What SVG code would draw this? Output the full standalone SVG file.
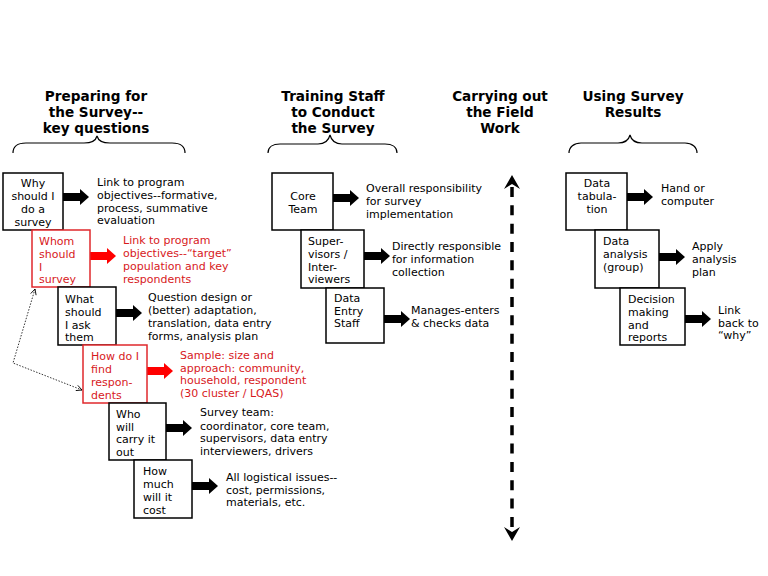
<svg xmlns="http://www.w3.org/2000/svg" width="768" height="576" viewBox="0 0 768 576">
<defs>
<style>
text{font-family:"DejaVu Sans","Verdana",sans-serif;font-size:11px;fill:#000}
.t{font-weight:bold;font-size:13.6px;text-anchor:middle}
.c{text-anchor:middle}
.r{fill:#d7191c}
.box{fill:#fff;stroke:#000;stroke-width:1.5}
.rbox{fill:#fff;stroke:#e0282c;stroke-width:1.5}
.brace{fill:none;stroke:#000;stroke-width:1.2}
</style>
<path id="arr" d="M0,-4 H17 V-8 L26,0 L17,8 V4 H0 Z"/>
<marker id="dm" viewBox="0 0 10 10" refX="9" refY="5" markerWidth="7" markerHeight="7" orient="auto-start-reverse" markerUnits="userSpaceOnUse">
<path d="M1,1 L9,5 L1,9" fill="none" stroke="#000" stroke-width="1.2"/>
</marker>
</defs>
<rect width="768" height="576" fill="#fff"/>

<g id="titles">
<text class="t" x="96" y="101">Preparing for</text>
<text class="t" x="96" y="117">the Survey--</text>
<text class="t" x="96" y="133">key questions</text>
<text class="t" x="333" y="101">Training Staff</text>
<text class="t" x="333" y="117">to Conduct</text>
<text class="t" x="333" y="133">the Survey</text>
<text class="t" x="500" y="101">Carrying out</text>
<text class="t" x="500" y="117">the Field</text>
<text class="t" x="500" y="133">Work</text>
<text class="t" x="633" y="101">Using Survey</text>
<text class="t" x="633" y="117">Results</text>
</g>

<g id="braces">
<path class="brace" d="M13,153 C13,146 18,143 26,143 H84 C92,143 96,140 97,136 C98,140 102,143 110,143 H172 C180,143 185,146 185,153"/>
<path class="brace" d="M268,153 C268,147 273,144 280,144 H318 C326,144 329,139 330,135 C331,139 334,144 342,144 H385 C392,144 397,147 397,153"/>
<path class="brace" d="M569,153 C569,147 574,143 581,143 H618 C626,143 629,139 630,135 C631,139 634,143 642,143 H685 C692,143 697,147 697,153"/>
</g>

<g id="connectors">
<use href="#arr" x="63" y="197"/>
<use href="#arr" x="90" y="256" fill="#ff0000"/>
<use href="#arr" x="116" y="313"/>
<use href="#arr" x="147" y="371" fill="#ff0000"/>
<use href="#arr" x="166" y="428"/>
<use href="#arr" x="192" y="486"/>
<use href="#arr" x="333" y="198"/>
<use href="#arr" x="364" y="256"/>
<use href="#arr" x="384" y="319"/>
<use href="#arr" x="627" y="197"/>
<use href="#arr" x="659" y="257"/>
<use href="#arr" x="685" y="319"/>
<polyline points="35,289 13,363 82,390" fill="none" stroke="#000" stroke-width="0.8" stroke-dasharray="1.5,1.5" marker-start="url(#dm)" marker-end="url(#dm)"/>
<line x1="512" y1="187" x2="512" y2="527" stroke="#000" stroke-width="3.5" stroke-dasharray="10,8.33"/>
<path d="M512,175 L520,189 L512,184 L504,189 Z"/>
<path d="M512,541 L520,527 L512,532 L504,527 Z"/>
</g>

<g id="why">
<rect class="box" x="3" y="173" width="60" height="57"/>
<text class="c" x="33" y="187">Why</text>
<text class="c" x="33" y="200">should I</text>
<text class="c" x="33" y="213">do a</text>
<text class="c" x="33" y="226">survey</text>
<text x="97" y="186">Link to program</text>
<text x="97" y="199">objectives--formative,</text>
<text x="97" y="212">process, summative</text>
<text x="97" y="224">evaluation</text>
</g>

<g id="whom">
<rect class="rbox" x="32" y="230" width="58" height="57"/>
<text class="r" x="39" y="245">Whom</text>
<text class="r" x="39" y="258">should</text>
<text class="r" x="39" y="271">I</text>
<text class="r" x="39" y="283">survey</text>
<text class="r" x="123" y="244">Link to program</text>
<text class="r" x="123" y="257">objectives--“target”</text>
<text class="r" x="123" y="270">population and key</text>
<text class="r" x="123" y="283">respondents</text>
</g>

<g id="what">
<rect class="box" x="58" y="287" width="58" height="58"/>
<text x="65" y="303">What</text>
<text x="65" y="316">should</text>
<text x="65" y="329">I ask</text>
<text x="65" y="341">them</text>
<text x="148" y="301">Question design or</text>
<text x="148" y="314">(better) adaptation,</text>
<text x="148" y="327">translation, data entry</text>
<text x="148" y="340">forms, analysis plan</text>
</g>

<g id="how">
<rect class="rbox" x="83" y="345" width="64" height="58"/>
<text class="r" x="91" y="360">How do I</text>
<text class="r" x="91" y="373">find</text>
<text class="r" x="91" y="386">respon-</text>
<text class="r" x="91" y="399">dents</text>
<text class="r" x="180" y="359">Sample: size and</text>
<text class="r" x="180" y="372">approach: community,</text>
<text class="r" x="180" y="384">household, respondent</text>
<text class="r" x="180" y="397">(30 cluster / LQAS)</text>
</g>

<g id="who">
<rect class="box" x="109" y="403" width="57" height="57"/>
<text x="116" y="418">Who</text>
<text x="116" y="431">will</text>
<text x="116" y="443">carry it</text>
<text x="116" y="456">out</text>
<text x="200" y="416">Survey team:</text>
<text x="200" y="430">coordinator, core team,</text>
<text x="200" y="442">supervisors, data entry</text>
<text x="200" y="455">interviewers, drivers</text>
</g>

<g id="cost">
<rect class="box" x="134" y="460" width="58" height="58"/>
<text x="143" y="475">How</text>
<text x="143" y="488">much</text>
<text x="143" y="501">will it</text>
<text x="143" y="514">cost</text>
<text x="226" y="481">All logistical issues--</text>
<text x="226" y="494">cost, permissions,</text>
<text x="226" y="506">materials, etc.</text>
</g>

<g id="core">
<rect class="box" x="272" y="173" width="61" height="57"/>
<text class="c" x="303" y="200">Core</text>
<text class="c" x="303" y="213">Team</text>
<text x="366" y="192">Overall responsibility</text>
<text x="366" y="205">for survey</text>
<text x="366" y="218">implementation</text>
</g>

<g id="supervisors">
<rect class="box" x="301" y="230" width="63" height="58"/>
<text x="308" y="245">Super-</text>
<text x="308" y="258">visors /</text>
<text x="308" y="271">Inter-</text>
<text x="308" y="283">viewers</text>
<text x="392" y="250">Directly responsible</text>
<text x="392" y="263">for information</text>
<text x="392" y="276">collection</text>
</g>

<g id="dataentry">
<rect class="box" x="326" y="288" width="58" height="55"/>
<text x="334" y="302">Data</text>
<text x="334" y="315">Entry</text>
<text x="334" y="327">Staff</text>
<text x="411" y="314">Manages-enters</text>
<text x="411" y="327">&amp; checks data</text>
</g>

<g id="tabulation">
<rect class="box" x="566" y="173" width="61" height="57"/>
<text class="c" x="597" y="187">Data</text>
<text class="c" x="597" y="200">tabula-</text>
<text class="c" x="597" y="213">tion</text>
<text x="661" y="192">Hand or</text>
<text x="661" y="205">computer</text>
</g>

<g id="analysis">
<rect class="box" x="595" y="230" width="64" height="58"/>
<text x="603" y="245">Data</text>
<text x="603" y="258">analysis</text>
<text x="603" y="271">(group)</text>
<text x="692" y="250">Apply</text>
<text x="692" y="263">analysis</text>
<text x="692" y="276">plan</text>
</g>

<g id="decision">
<rect class="box" x="620" y="288" width="65" height="57"/>
<text x="628" y="303">Decision</text>
<text x="628" y="316">making</text>
<text x="628" y="329">and</text>
<text x="628" y="341">reports</text>
<text x="718" y="314">Link</text>
<text x="718" y="327">back to</text>
<text x="718" y="339">“why”</text>
</g>
</svg>
